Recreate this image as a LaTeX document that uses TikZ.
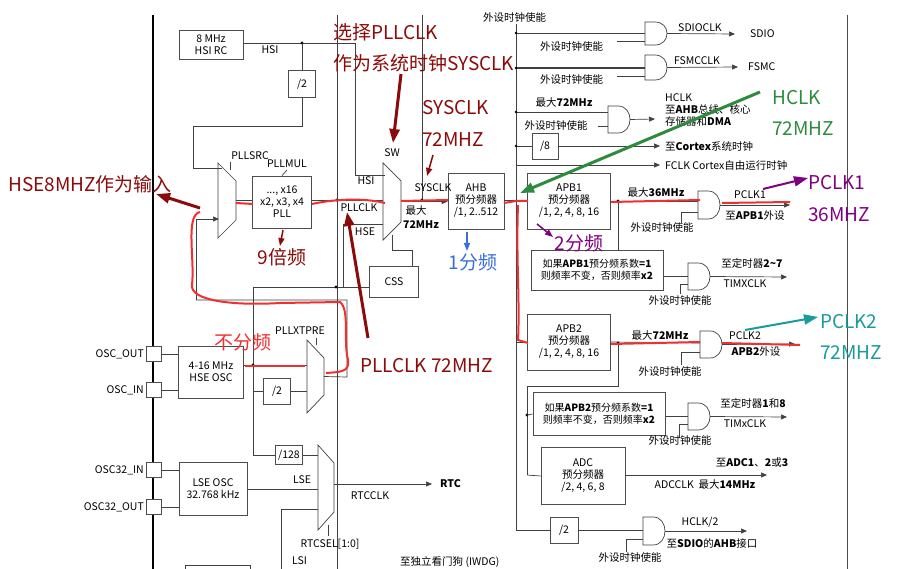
\documentclass[tikz,border=0pt]{standalone}
\usepackage{fontspec}
\setmainfont{Noto Sans CJK SC}
\usetikzlibrary{arrows.meta}
\definecolor{dred}{HTML}{8B0A0A}
\definecolor{rred}{HTML}{F03030}
\definecolor{bblue}{HTML}{3A6FD8}
\definecolor{ppur}{HTML}{800080}
\definecolor{ggreen}{HTML}{2E8B3E}
\definecolor{tteal}{HTML}{1A9A9A}
\newcommand\andg[4]{% name x ytop ybot
 \draw[ln] (#2,#3) -- ({#2+10},#3) .. controls ({#2+26},#3) and ({#2+26},#4) .. ({#2+10},#4) -- (#2,#4) -- cycle;
 \coordinate (#1o) at ({#2+22},{(#3+#4)/2});}
\newcommand\muxx[5]{% name x1 x2 ytop ybot
 \draw[ln] (#2,#4) -- (#3,{#4+18}) -- (#3,{#5-18}) -- (#2,#5) -- cycle;
 \coordinate (#1o) at (#3,{(#4+#5)/2});}
\begin{document}
\begin{tikzpicture}[x=1pt,y=-1pt,
 ln/.style={draw=black!75,line width=0.7pt},
 bx/.style={draw=black!70,line width=0.7pt,fill=white},
 t/.style={font=\fontsize{10.5}{12}\selectfont,inner sep=0pt,align=center},
 arr/.style={ln,-{Triangle[length=6pt,width=5pt]}},
 dot/.style={circle,fill=black,inner sep=1.2pt},
 ann/.style={font=\fontsize{19}{22}\selectfont,inner sep=0pt,align=left},
 rl/.style={draw=rred,line width=2pt},
 bigarr/.style={line width=3pt,-{Triangle[length=14pt,width=10pt]}}]
\useasboundingbox[fill=white] (0,0) rectangle (912,569);
% frame lines
\draw[line width=1.4pt] (153,15) -- (153,569);
\draw[line width=0.8pt,black!70] (847,15) -- (847,569);
% HSI
\node[bx,minimum width=64pt,minimum height=29pt,t] (hsi) at (211,45) {8 MHz\\HSI RC};
\node[bx,minimum width=27pt,minimum height=27pt,t] (d2a) at (302,84) {/2};
\coordinate (hsidot) at (302,43);
\draw[ln] (hsi.east|-0,43) -- (355,43) -- (355,175) -- (385,175);
\node[dot] at (hsidot) {};
\draw[ln] (hsidot) -- (d2a.north);
\draw[ln] (d2a.south) -- (302,126) -- (193,126) -- (193,168) -- (222,168);
\node[t] at (270,50) {HSI};
\draw[ln] (337,15) -- (337,569);
\draw[ln] (422,15) -- (422,200);
% PLLSRC mux
\muxx{src}{218}{236}{163}{238}
\node[t] at (250,156) {PLLSRC};
\draw[ln] (230,170) -- (230,162);
\draw[arr] (196,300) -- (196,219) -- (219,219);
% PLL
\node[bx,minimum width=59pt,minimum height=52pt,t] (pll) at (282,202) {..., x16\\x2, x3, x4\\PLL};
\node[t] at (287,164) {PLLMUL};
\draw[ln] (287,170) -- (pll.north);
\draw[ln] (srco) -- (pll.west|-srco);
% SW mux
\muxx{sw}{383}{401}{163}{240}
\node[t] at (392,153) {SW};
\draw[ln] (pll.east|-0,200) -- (383,200);
\node[dot] at (337,200) {};
\node[t] at (366,181) {HSI};
\node[t] at (359,208) {PLLCLK};
\node[t] at (365,232) {HSE};
\draw[ln] (383,224) -- (343,224) -- (343,287);
\draw[ln] (392,235) -- (392,250) -- (412,250) -- (412,266);
% AHB
\node[bx,minimum width=56pt,minimum height=56pt,t] (ahb) at (476,201) {AHB\\预分频器\\/1, 2..512};
\draw[arr] (swo) -- (ahb.west|-swo);
\node[dot] at (422,200) {};
\node[t] at (433,188) {SYSCLK};
\node[t] at (416,211) {最大};
\node[t] at (421,225) {\textbf{72MHz}};
% CSS
\node[bx,minimum width=49pt,minimum height=31pt,t] (css) at (394,282) {CSS};
\draw[ln] (253,287) -- (css.west|-0,287);
\node[dot] at (336,287) {};
\draw[ln] (253,287) -- (253,455);
% HSE OSC
\node[bx,minimum width=65pt,minimum height=52pt,t] (hse) at (211,372) {4-16 MHz\\HSE OSC};
\node[bx,minimum width=15pt,minimum height=15pt] (po) at (154,354) {};
\node[bx,minimum width=15pt,minimum height=15pt] (pi) at (154,390) {};
\node[t,anchor=east] at (144,354) {OSC\_OUT};
\node[t,anchor=east] at (144,390) {OSC\_IN};
\draw[ln] (po) -- (hse.west|-po); \draw[ln] (pi) -- (hse.west|-pi);
\muxx{xt}{307}{324}{340}{413}
\node[t] at (300,331) {PLLXTPRE};
\draw[ln] (316,345) -- (316,338);
\draw[ln] (hse.east|-0,365) -- (307,365);
\node[dot] at (253,365) {};
\node[bx,minimum width=27pt,minimum height=26pt,t] (d2b) at (277,391) {/2};
\draw[ln] (253,391) -- (d2b.west); \draw[ln] (d2b.east) -- (307,391);
\draw[ln] (xto) -- (347,377) -- (347,300) -- (196,300);
% LSE
\node[bx,minimum width=68pt,minimum height=53pt,t] (lse) at (213,489) {LSE OSC\\32.768 kHz};
\node[bx,minimum width=15pt,minimum height=15pt] (p3) at (154,470) {};
\node[bx,minimum width=15pt,minimum height=15pt] (p4) at (154,507) {};
\node[t,anchor=east] at (144,470) {OSC32\_IN};
\node[t,anchor=east] at (144,507) {OSC32\_OUT};
\draw[ln] (p3) -- (lse.west|-p3); \draw[ln] (p4) -- (lse.west|-p4);
\node[bx,minimum width=27pt,minimum height=19pt,t] (d128) at (289,455) {/128};
\draw[ln] (253,455) -- (d128.west); \draw[ln] (d128.east) -- (318,455);
\muxx{rtc}{318}{334}{445}{530}
\draw[ln] (lse.east|-0,489) -- (318,489);
\node[t] at (302,480) {LSE};
\draw[ln] (281,569) -- (281,509) -- (318,509);
\draw[ln] (328,525) -- (328,536);
\node[t] at (330,544) {RTCSEL[1:0]};
\coordinate (rtcd) at (432,484);
\draw[arr] (334,484) -- (rtcd);
\node[t] at (370,496) {RTCCLK};
\node[t,anchor=west] at (440,484) {\textbf{RTC}};
\node[t,anchor=west] at (400,562) {至独立看门狗 (IWDG)};
\draw[ln] (185,569) -- (185,565) -- (250,565) -- (250,569);
\node[t,anchor=west] at (292,561) {LSI};
% right bus
\draw[ln] (ahb.east|-0,200) -- (516,200);
\draw[ln] (516,24) -- (516,530);
\node[t,anchor=west] at (483,18) {外设时钟使能};
% SDIO
\andg{g1}{645}{22}{45}
\draw[ln] (516,33) -- (645,33);
\draw[ln] (617,41) -- (645,41);
\node[t,anchor=west] at (540,47) {外设时钟使能};
\draw[arr] (g1o) -- (735,34);
\node[t] at (700,28) {SDIOCLK};
\node[t,anchor=west] at (750,34) {SDIO};
% FSMC
\andg{g2}{645}{55}{80}
\draw[ln,line width=1.2pt] (516,68) -- (645,68);
\draw[ln] (617,76) -- (645,76);
\node[t,anchor=west] at (540,80) {外设时钟使能};
\draw[arr] (g2o) -- (738,67);
\node[t] at (697,61) {FSMCCLK};
\node[t,anchor=west] at (748,67) {FSMC};
% HCLK
\andg{g3}{608}{106}{133}
\draw[ln] (516,112) -- (608,112);
\draw[ln] (598,126) -- (608,126);
\node[t] at (564,103) {最大\textbf{72MHz}};
\node[t] at (556,126) {外设时钟使能};
\draw[arr] (g3o) -- (655,119);
\node[t,anchor=west,align=left] at (665,110) {HCLK\\至\textbf{AHB}总线、核心\\存储器和\textbf{DMA}};
\node[bx,minimum width=26pt,minimum height=26pt,t] (d8) at (545,146) {/8};
\draw[ln] (516,146) -- (d8.west);
\draw[arr] (d8.east) -- (660,146);
\node[t,anchor=west] at (665,146) {至\textbf{Cortex}系统时钟};
\draw[arr] (516,165) -- (660,165);
\node[t,anchor=west] at (665,166) {FCLK Cortex自由运行时钟};
\foreach \y in {33,68,112,146} \node[dot,inner sep=1pt] at (516,\y) {};
% APB1
\node[bx,minimum width=83pt,minimum height=56pt,t] (apb1) at (569,201) {APB1\\预分频器\\/1, 2, 4, 8, 16};
\draw[ln] (516,201) -- (apb1.west);
\andg{g4}{698}{191}{219}
\draw[ln] (apb1.east) -- (698,201);
\node[dot] at (618,201) {};
\node[t] at (656,193) {最大\textbf{36MHz}};
\draw[arr] (g4o) -- (790,205);
\node[t] at (750,195) {PCLK1};
\node[t] at (755,216) {至\textbf{APB1}外设};
\draw[ln] (681,223) -- (681,212) -- (698,212);
\node[t] at (662,228) {外设时钟使能};
\draw[ln] (618,201) -- (618,250);
\node[bx,minimum width=132pt,minimum height=40pt,t,font=\fontsize{10}{12}\selectfont] (t27) at (597,270) {如果\textbf{APB1}预分频系数\textbf{=1}\\则频率不变，否则频率\textbf{x2}};
\andg{g5}{688}{263}{290}
\draw[ln] (t27.east|-0,276) -- (688,276);
\draw[arr] (g5o) -- (787,277);
\node[t] at (752,263) {至定时器\textbf{2\char`~7}};
\node[t] at (745,284) {TIMXCLK};
\draw[ln] (680,294) -- (680,284) -- (688,284);
\node[t] at (680,301) {外设时钟使能};
% APB2
\node[bx,minimum width=83pt,minimum height=56pt,t] (apb2) at (569,342) {APB2\\预分频器\\/1, 2, 4, 8, 16};
\draw[ln] (516,342) -- (apb2.west);
\andg{g6}{700}{331}{358}
\draw[ln] (apb2.east) -- (700,343);
\node[dot] at (618,343) {};
\node[t] at (660,336) {最大\textbf{72MHz}};
\draw[arr] (g6o) -- (795,344);
\node[t] at (745,336) {PCLK2};
\node[t] at (756,352) {\textbf{APB2}外设};
\draw[ln] (681,365) -- (681,352) -- (700,352);
\node[t] at (670,372) {外设时钟使能};
\draw[ln] (618,343) -- (618,386) -- (527,386) -- (527,475);
\node[dot] at (527,415) {};
\node[bx,minimum width=132pt,minimum height=43pt,t,font=\fontsize{10}{12}\selectfont] (t18) at (599,414) {如果\textbf{APB2}预分频系数\textbf{=1}\\则频率不变，否则频率\textbf{x2}};
\draw[ln] (527,415) -- (t18.west);
\andg{g7}{688}{403}{430}
\draw[ln] (t18.east|-0,416) -- (688,416);
\draw[arr] (g7o) -- (787,417);
\node[t] at (753,403) {至定时器\textbf{1}和\textbf{8}};
\node[t] at (745,424) {TIMxCLK};
\draw[ln] (679,438) -- (679,424) -- (688,424);
\node[t] at (680,441) {外设时钟使能};
\node[bx,minimum width=84pt,minimum height=57pt,t] (adc) at (583,476) {ADC\\预分频器\\/2, 4, 6, 8};
\draw[ln] (527,475) -- (adc.west);
\draw[arr] (adc.east|-0,475) -- (767,475);
\node[t] at (752,463) {至\textbf{ADC1}、\textbf{2}或\textbf{3}};
\node[t] at (705,485) {ADCCLK\ \ 最大\textbf{14MHz}};
\node[bx,line width=1pt,minimum width=28pt,minimum height=26pt,t] (hd2) at (564,530) {/2};
\draw[ln] (516,530) -- (hd2.west);
\andg{g8}{643}{517}{545}
\draw[ln,line width=1pt] (hd2.east) -- (643,530);
\draw[arr] (g8o) -- (747,531);
\node[t] at (700,522) {HCLK/2};
\node[t] at (712,543) {至\textbf{SDIO}的\textbf{AHB}接口};
\draw[ln,line width=1pt] (626,552) -- (626,539) -- (643,539);
\node[t] at (630,558) {外设时钟使能};
% red highlights
\draw[rl] (236,203) -- (253,204);
\draw[rl] (312,204) .. controls (330,200) and (360,197) .. (385,203);
\draw[rl] (401,201) -- (448,200);
\draw[rl] (504,203) -- (516,201) -- (528,201);
\draw[rl] (518,205) .. controls (516,260) and (520,300) .. (518,340) -- (528,343);
\draw[rl] (611,202) -- (700,200);
\draw[rl] (722,203) -- (790,202);
\draw[rl] (611,344) -- (700,342);
\draw[rl] (722,343) -- (800,345);
\draw[rl] (200,212) .. controls (185,215) and (195,260) .. (192,285) .. controls (190,300) and (230,306) .. (280,303) -- (340,302) .. controls (350,310) and (343,340) .. (348,360) .. controls (350,372) and (340,372) .. (326,373);
\draw[rl] (245,366) -- (305,366);
% annotations
\node[ann,text=dred,anchor=west] at (333,32) {选择PLLCLK};
\node[ann,text=dred,anchor=west] at (333,63) {作为系统时钟SYSCLK};
\draw[bigarr,dred] (401,74) -- (393,143);
\node[ann,text=dred,anchor=west] at (422,108) {SYSCLK};
\node[ann,text=dred,anchor=west] at (422,140) {72MHZ};
\draw[dred,line width=1.5pt,-{Triangle[length=8pt,width=6pt]}] (433,155) -- (427,176);
\node[ann,text=dred,anchor=west] at (8,184) {HSE8MHZ作为输入};
\draw[bigarr,dred] (200,208) -- (156,194);
\node[ann,text=dred] at (282,257) {9倍频};
\draw[dred,line width=1.5pt,-{Triangle[length=8pt,width=6pt]}] (283,230) -- (280,246);
\node[ann,text=dred,anchor=west] at (360,366) {PLLCLK 72MHZ};
\draw[bigarr,dred] (368,338) -- (347,212);
\node[ann,text=rred] at (243,342) {不分频};
\node[ann,text=bblue] at (473,262) {1分频};
\draw[bblue,line width=1.5pt,-{Triangle[length=8pt,width=6pt]}] (467,232) -- (467,251);
\node[ann,text=ppur] at (579,243) {2分频};
\draw[ppur,line width=1.5pt,-{Triangle[length=8pt,width=6pt]}] (537,224) -- (553,237);
\node[ann,text=ggreen,anchor=west] at (772,98) {HCLK};
\node[ann,text=ggreen,anchor=west] at (772,129) {72MHZ};
\draw[bigarr,ggreen] (760,92) -- (520,193);
\node[ann,text=ppur,anchor=west] at (808,183) {PCLK1};
\node[ann,text=ppur,anchor=west] at (808,215) {36MHZ};
\draw[bigarr,ppur,line width=2pt] (763,189) -- (808,178);
\node[ann,text=tteal,anchor=west] at (820,322) {PCLK2};
\node[ann,text=tteal,anchor=west] at (820,353) {72MHZ};
\draw[bigarr,tteal,line width=2pt] (745,330) -- (818,317);
\end{tikzpicture}
\end{document}
